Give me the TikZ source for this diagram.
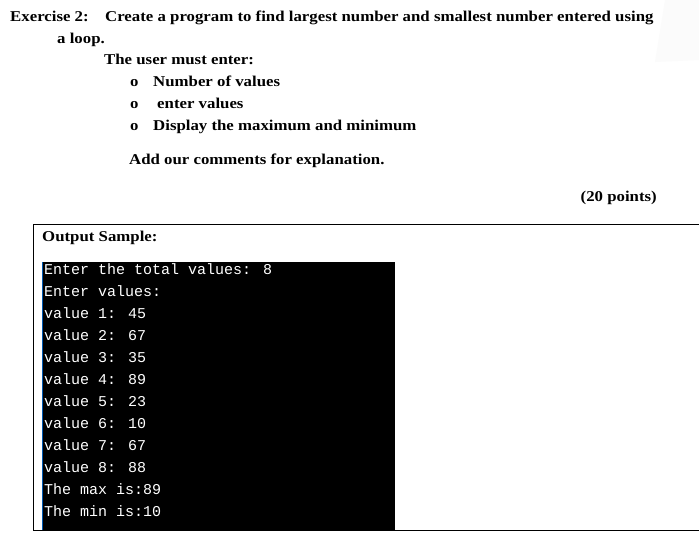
\documentclass[tikz,border=0pt]{standalone}
\usepackage{fontspec}
\setmainfont[FakeStretch=1.12]{Liberation Serif}
\newfontfamily\consolefont{Liberation Mono}
\begin{document}
\begin{tikzpicture}[x=1pt,y=-1pt,
  txt/.style={anchor=base west,inner sep=0pt,font=\fontsize{15}{16}\selectfont\bfseries},
  con/.style={anchor=base west,inner sep=0pt,text=white,font=\fontsize{15}{16}\consolefont}]
\useasboundingbox (0,0) rectangle (699,539);
\fill[white] (0,0) rectangle (699,539);
\fill[gray!3] (665,0) -- (699,0) -- (699,60) -- (655,62) -- cycle;
\node[txt] (ex) at (10,21) {Exercise 2:};
\node[txt] (l1) at (105,21) {Create a program to find largest number and smallest number entered using};
\node[txt] (l2) at (57,43) {a loop.};
\node[txt] (l3) at (104,64) {The user must enter:};
\node[txt] (b1) at (130,86) {o};
\node[txt] (t1) at (153,86) {Number of values};
\node[txt] (b2) at (130,108) {o};
\node[txt] (t2) at (157,108) {enter values};
\node[txt] (b3) at (130,130) {o};
\node[txt] (t3) at (153,130) {Display the maximum and minimum};
\node[txt] (l4) at (129,164) {Add our comments for explanation.};
\node[txt,anchor=base east] (pts) at (657,201) {(20 points)};
\draw[black,line width=0.8pt] (33,224) rectangle (700,530);
\node[txt] (os) at (42,241) {Output Sample:};
\fill[black] (42,262) rectangle (395,530);
\draw[blue!50!cyan!70!black,line width=1.2pt] (42.6,262) -- (42.6,530);
\foreach \t [count=\i from 0] in {Enter the total values: 8,Enter values:,value 1: 45,value 2: 67,value 3: 35,value 4: 89,value 5: 23,value 6: 10,value 7: 67,value 8: 88,The max is:89,The min is:10}
  \node[con] (c\i) at (44,274+22*\i) {\t};
\end{tikzpicture}
\end{document}
